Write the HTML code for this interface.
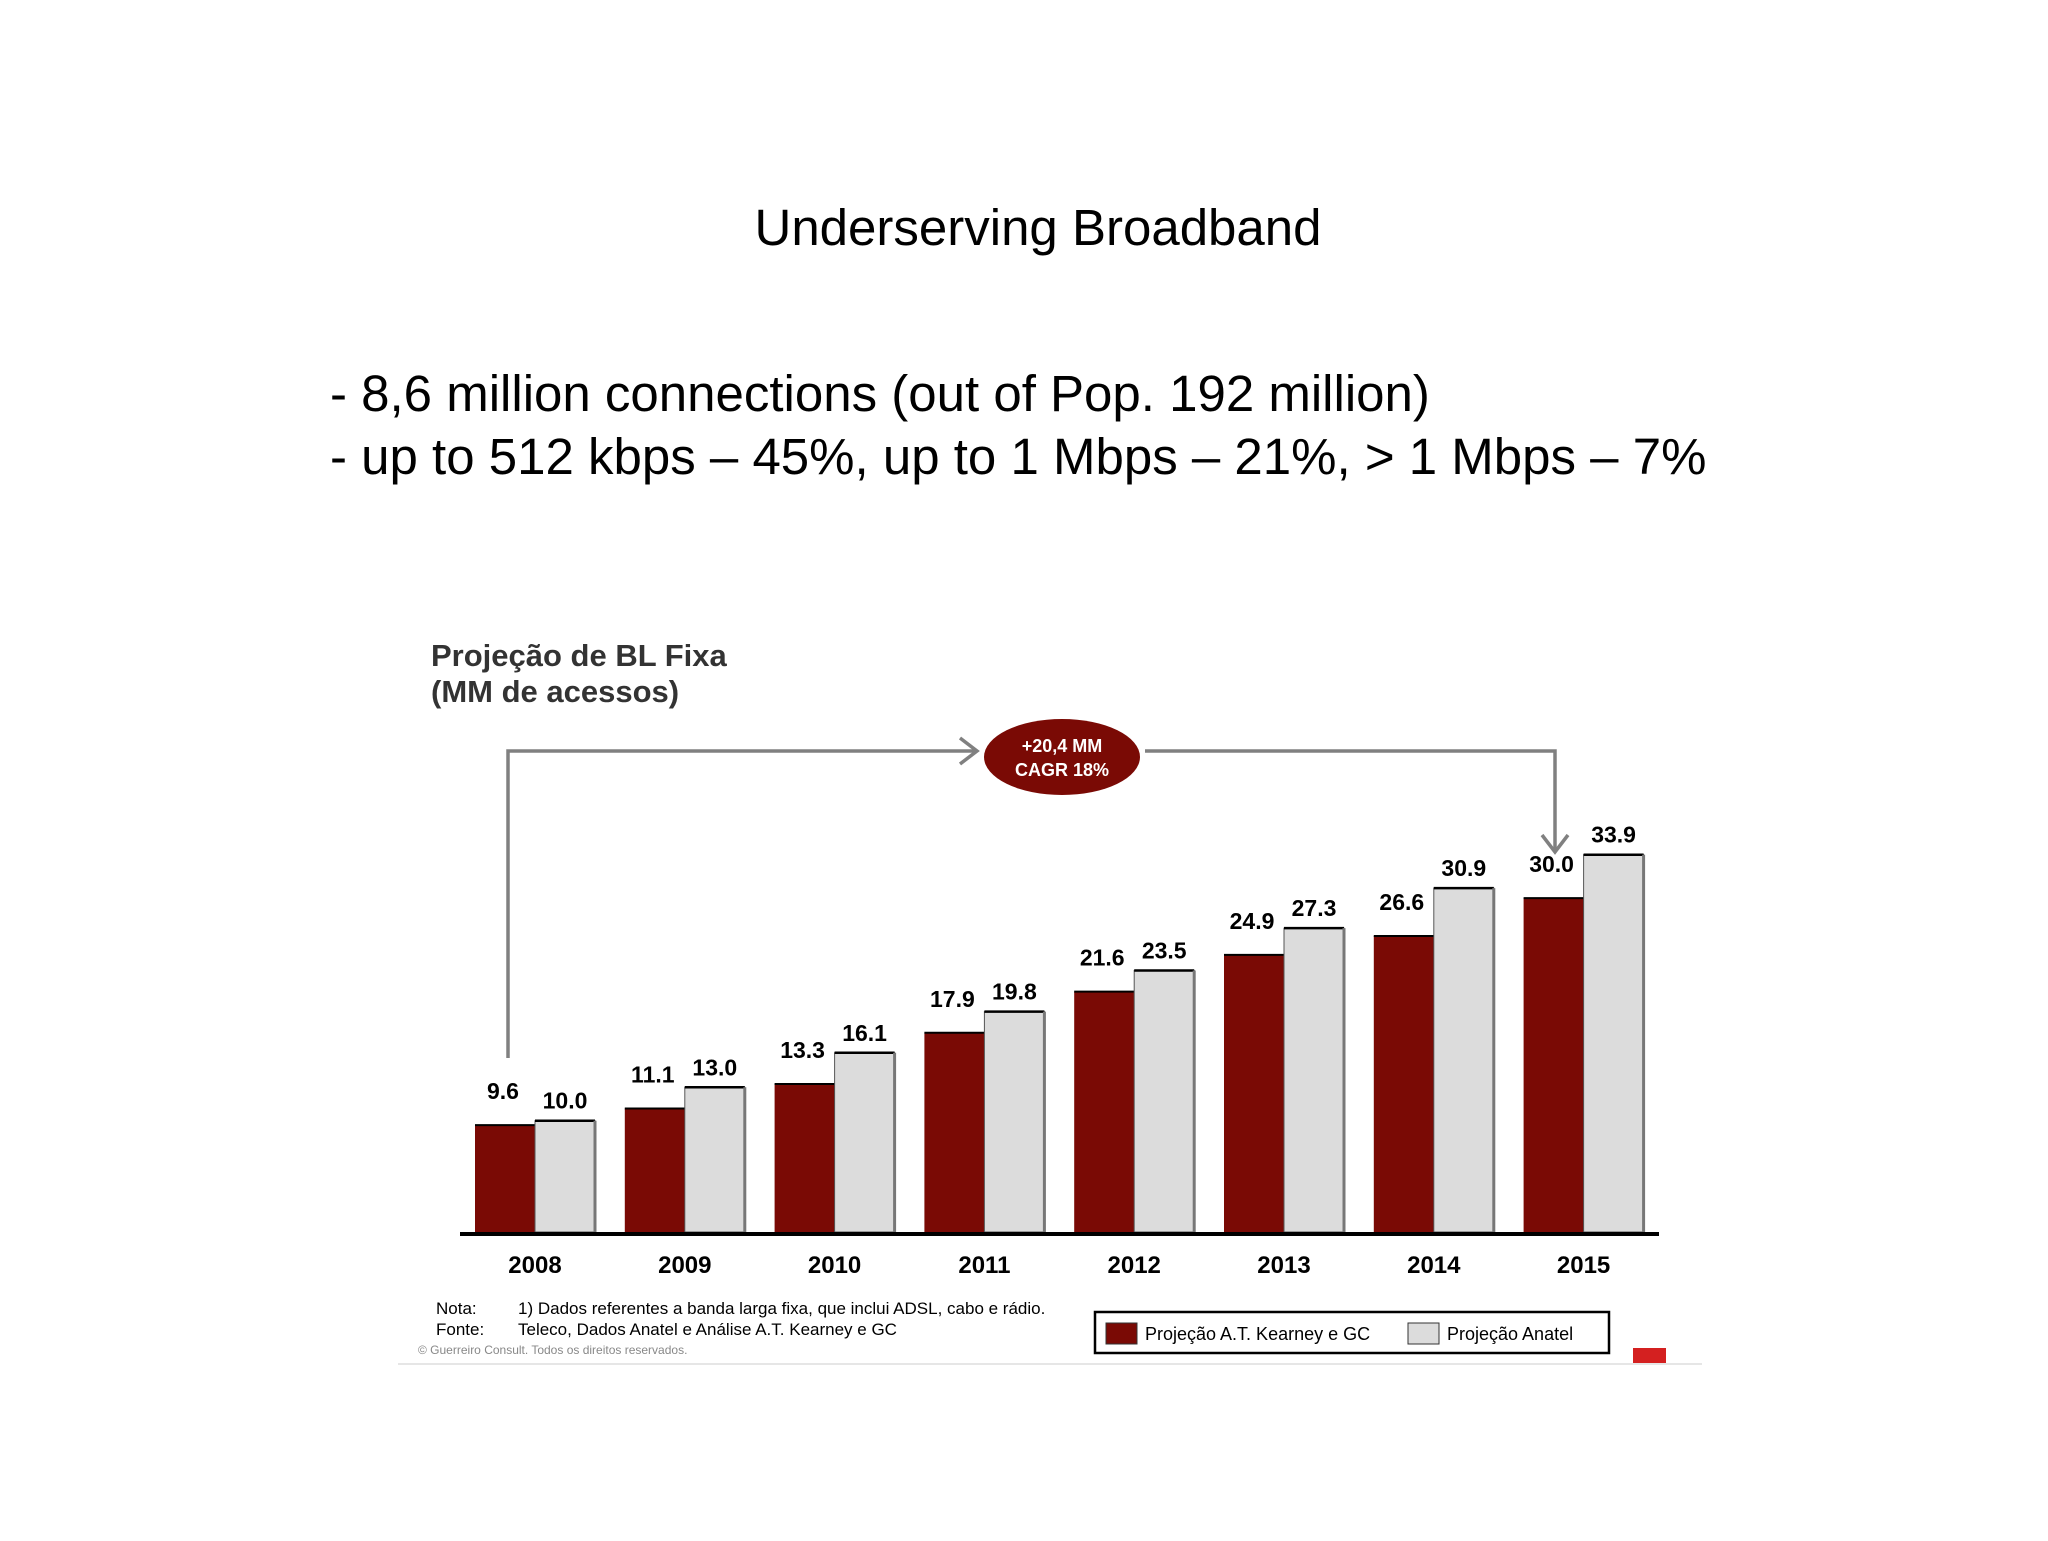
<!DOCTYPE html>
<html><head><meta charset="utf-8"><style>
html,body{margin:0;padding:0;background:#fff;}
body{width:2048px;height:1536px;position:relative;overflow:hidden;font-family:"Liberation Sans",sans-serif;}
</style></head><body>
<svg width="2048" height="1536" xmlns="http://www.w3.org/2000/svg">
<text x="1038" y="245" text-anchor="middle" font-size="51" fill="#000">Underserving Broadband</text>
<text x="330" y="411" font-size="51" fill="#000">- 8,6 million connections (out of Pop. 192 million)</text>
<text x="330" y="474" font-size="51" fill="#000">- up to 512 kbps – 45%, up to 1 Mbps – 21%, &gt; 1 Mbps – 7%</text>
<text x="431" y="666" font-size="31" font-weight="bold" fill="#333">Projeção de BL Fixa</text>
<text x="431" y="702" font-size="31" font-weight="bold" fill="#333">(MM de acessos)</text>
<g fill="none" stroke="#808080" stroke-width="3.5">
<polyline points="508,1058 508,751 977,751"/>
<polyline points="960,738 977,751 960,764"/>
<polyline points="1145,751 1555,751 1555,852"/>
<polyline points="1542,835 1555,852 1568,835"/>
</g>
<ellipse cx="1062" cy="757" rx="78" ry="38" fill="#7a0a05"/>
<text x="1062" y="752" text-anchor="middle" font-size="18" font-weight="bold" fill="#fff">+20,4 MM</text>
<text x="1062" y="776" text-anchor="middle" font-size="18" font-weight="bold" fill="#fff">CAGR 18%</text>
<g id="bars"></g>
<line x1="460" y1="1234" x2="1659" y2="1234" stroke="#000" stroke-width="4"/>
<text x="436" y="1314" font-size="17" fill="#000">Nota:</text>
<text x="518" y="1314" font-size="17" fill="#000">1) Dados referentes a banda larga fixa, que inclui ADSL, cabo e rádio.</text>
<text x="436" y="1335" font-size="17" fill="#000">Fonte:</text>
<text x="518" y="1335" font-size="17" fill="#000">Teleco, Dados Anatel e Análise A.T. Kearney e GC</text>
<text x="418" y="1354" font-size="12" fill="#888">© Guerreiro Consult. Todos os direitos reservados.</text>
<rect x="1095" y="1312" width="514" height="41" fill="#fff" stroke="#000" stroke-width="2.5"/>
<rect x="1106" y="1323" width="31" height="21" fill="#7a0a05" stroke="#333"/>
<text x="1145" y="1340" font-size="18" fill="#000">Projeção A.T. Kearney e GC</text>
<rect x="1408" y="1323" width="31" height="21" fill="#dcdcdc" stroke="#333"/>
<text x="1447" y="1340" font-size="18" fill="#000">Projeção Anatel</text>
<rect x="1633" y="1348" width="33" height="16" fill="#d42020"/>
<line x1="398" y1="1364" x2="1702" y2="1364" stroke="#e6e6e6" stroke-width="2"/>
</svg>
<script>
const years=["2008","2009","2010","2011","2012","2013","2014","2015"];
const kearney=[9.6,11.1,13.3,17.9,21.6,24.9,26.6,30.0];
const anatel=[10.0,13.0,16.1,19.8,23.5,27.3,30.9,33.9];
const kearneyLabels=["9.6","11.1","13.3","17.9","21.6","24.9","26.6","30.0"];
const anatelLabels=["10.0","13.0","16.1","19.8","23.5","27.3","30.9","33.9"];
const NS="http://www.w3.org/2000/svg";
const base=1232, pxPerUnit=11.13, x0=475, step=149.8, bw=60;
const y=v=>base-v*pxPerUnit;
const g=document.getElementById('bars');
function mk(tag,attrs){const e=document.createElementNS(NS,tag);for(const k in attrs)e.setAttribute(k,attrs[k]);g.appendChild(e);return e;}
years.forEach((yr,i)=>{
  const xr=x0+i*step, xg=xr+bw;
  const r=mk('rect',{x:xr,y:y(kearney[i]),width:bw,height:base-y(kearney[i]),fill:'#7a0a05'});
  
  
  mk('line',{x1:xr,y1:y(kearney[i]),x2:xr+bw,y2:y(kearney[i]),stroke:'#000','stroke-width':2});
  const a=mk('rect',{x:xg,y:y(anatel[i]),width:bw,height:base-y(anatel[i]),fill:'#dcdcdc',stroke:'#555','stroke-width':1});
  
  
  mk('line',{x1:xg,y1:y(anatel[i]),x2:xg+bw,y2:y(anatel[i]),stroke:'#000','stroke-width':2.5});
  mk('line',{x1:xg+bw,y1:y(anatel[i]),x2:xg+bw,y2:base,stroke:'#777','stroke-width':3});
  const t1=mk('text',{x:xr+bw/2-2,y:y(kearney[i])-26,'text-anchor':'middle','font-size':23,'font-weight':'bold',fill:'#000'});
  t1.textContent=kearneyLabels[i];
  
  
  const t2=mk('text',{x:xg+bw/2,y:y(anatel[i])-12,'text-anchor':'middle','font-size':23,'font-weight':'bold',fill:'#000'});
  t2.textContent=anatelLabels[i];
  
  
  const tl=mk('text',{x:xr+bw,y:1273,'text-anchor':'middle','font-size':24,'font-weight':'bold',fill:'#000'});
  tl.textContent=yr;
  
  
});
</script>
</body></html>
